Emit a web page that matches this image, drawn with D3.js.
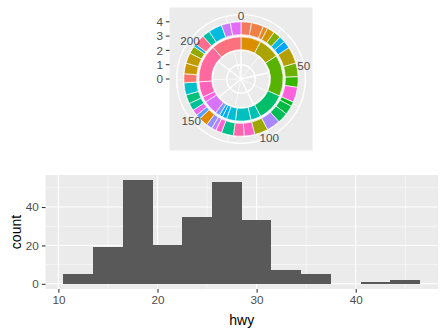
<!DOCTYPE html>
<html>
<head>
<meta charset="utf-8">
<script src="https://cdn.jsdelivr.net/npm/d3@7"></script>
<style>
  html, body { margin: 0; padding: 0; background: #ffffff; }
  svg { display: block; }
  text { font-family: "Liberation Sans", Arial, Helvetica, sans-serif; }
</style>
</head>
<body>
<svg id="chart" width="446" height="335"></svg>
<script>
// ---- mpg data -------------------------------------------------------------
// Vehicles per manufacturer, in data order
const manufacturers = ["audi", "chevrolet", "dodge", "ford", "honda", "hyundai", "jeep",
  "land rover", "lincoln", "mercury", "nissan", "pontiac", "subaru", "toyota", "volkswagen"];
const manufacturerCounts = [18, 19, 37, 25, 9, 14, 8, 4, 3, 4, 13, 5, 14, 34, 27];

// Vehicles per model, in data order
const models = ["a4", "a4 quattro", "a6 quattro",
  "c1500 suburban 2wd", "corvette", "k1500 tahoe 4wd", "malibu",
  "caravan 2wd", "dakota pickup 4wd", "durango 4wd", "ram 1500 pickup 4wd",
  "expedition 2wd", "explorer 4wd", "f150 pickup 4wd", "mustang",
  "civic",
  "sonata", "tiburon",
  "grand cherokee 4wd",
  "range rover",
  "navigator 2wd",
  "mountaineer 4wd",
  "altima", "maxima", "pathfinder 4wd",
  "grand prix",
  "forester awd", "impreza awd",
  "4runner 4wd", "camry", "camry solara", "corolla", "land cruiser wagon 4wd", "toyota tacoma 4wd",
  "gti", "jetta", "new beetle", "passat"];
const modelCounts = [7, 8, 3,
  5, 5, 4, 5,
  11, 9, 7, 10,
  3, 6, 7, 9,
  9,
  7, 7,
  8,
  4,
  3,
  4,
  6, 3, 4,
  5,
  6, 8,
  6, 7, 7, 5, 2, 7,
  5, 9, 6, 7];

const thetaTicks = [0, 50, 100, 150, 200];
const thetaMinorTicks = [25, 75, 125, 175, 225];
const radiusTicks = [0, 1, 2, 3, 4];

// hwy histogram, bins of width 3
const hwyBinStarts = [10.5, 13.5, 16.5, 19.5, 22.5, 25.5, 28.5, 31.5, 34.5, 37.5, 40.5, 43.5];
const hwyBinWidth = 3;
const hwyCounts = [5, 19, 54, 20, 35, 53, 33, 7, 5, 0, 1, 2];
const hwyTicks = [10, 20, 30, 40];
const hwyMinorTicks = [15, 25, 35, 45];
const countTicks = [0, 20, 40];
const countMinorTicks = [10, 30, 50];

// ---- colours: polar-LUV hue palette (c = 100, l = 65) -----------------------
function hclColor(h, c, l) {
  const WHITE_Y = 1.0, WHITE_u = 0.1978398, WHITE_v = 0.4683363;
  const hr = h * Math.PI / 180;
  const U = c * Math.cos(hr), V = c * Math.sin(hr);
  const Y = WHITE_Y * (l > 7.999592 ? Math.pow((l + 16) / 116, 3) : l / 903.3);
  const u = U / (13 * l) + WHITE_u, v = V / (13 * l) + WHITE_v;
  const X = 9 * Y * u / (4 * v);
  const Z = -X / 3 - 5 * Y + 3 * Y / v;
  const gt = t => (t > 0.00304 ? 1.055 * Math.pow(t, 1 / 2.4) - 0.055 : 12.92 * t);
  const cl = t => Math.round(255 * Math.max(0, Math.min(1, gt(t))));
  return d3.rgb(
    cl(3.240479 * X - 1.537150 * Y - 0.498535 * Z),
    cl(-0.969256 * X + 1.875992 * Y + 0.041556 * Z),
    cl(0.055648 * X - 0.204043 * Y + 1.057311 * Z)
  ).formatHex();
}
function huePalette(n) {
  return d3.range(n).map(i => hclColor((15 + i * 360 / n) % 360, 100, 65));
}
// one fill scale shared by both rings
const fillLevels = Array.from(new Set([...manufacturers, ...models])).sort();
const fill = d3.scaleOrdinal().domain(fillLevels).range(huePalette(fillLevels.length));

const svg = d3.select("#chart");
const GRID = "#ffffff", PANEL = "#EBEBEB", TICK = "#333333", LABEL = "#4D4D4D";
const tickLen = 3.67, majorW = 1.07, minorW = 0.53;

// ---- polar chart ------------------------------------------------------------
const polar = { x0: 169.5, y0: 7.5, size: 143 };
const cx = polar.x0 + polar.size / 2, cy = polar.y0 + polar.size / 2;
const total = d3.sum(manufacturerCounts);
const theta = d3.scaleLinear().domain([0, total]).range([0, 2 * Math.PI]);
const rScale = d3.scaleLinear().domain([0, 4]).range([0, 0.4 * polar.size]);
const rOuterGrid = 0.45 * polar.size;

const polarLayer = svg.append("g");
polarLayer.append("rect").attr("x", polar.x0).attr("y", polar.y0)
  .attr("width", polar.size).attr("height", polar.size).attr("fill", PANEL);

const pg = polarLayer.append("g").attr("transform", `translate(${cx},${cy})`);
const spoke = (t, w) => pg.append("line")
  .attr("x1", 0).attr("y1", 0)
  .attr("x2", rOuterGrid * Math.sin(theta(t))).attr("y2", -rOuterGrid * Math.cos(theta(t)))
  .attr("stroke", GRID).attr("stroke-width", w);
thetaTicks.forEach(t => spoke(t, majorW * 1.3));
thetaMinorTicks.forEach(t => spoke(t, minorW * 1.3));
radiusTicks.filter(r => r > 0).map(rScale).concat([rOuterGrid]).forEach(r =>
  pg.append("circle").attr("r", r).attr("fill", "none")
    .attr("stroke", GRID).attr("stroke-width", majorW * 1.3));

function ringSegments(keys, counts, r0, r1) {
  const ends = Array.from(d3.cumsum(counts));
  return keys.map((k, i) => ({ key: k, start: ends[i] - counts[i], end: ends[i], r0, r1 }));
}
const rings = [
  ...ringSegments(manufacturers, manufacturerCounts, 2.05, 2.95),
  ...ringSegments(models, modelCounts, 3.1, 4.0)
];
const arc = d3.arc()
  .innerRadius(d => rScale(d.r0)).outerRadius(d => rScale(d.r1))
  .startAngle(d => theta(d.start)).endAngle(d => theta(d.end));
pg.selectAll("path.seg").data(rings).join("path")
  .attr("class", "seg")
  .attr("d", arc)
  .attr("fill", d => fill(d.key))
  .attr("stroke", "#ffffff").attr("stroke-width", 0.7);

// theta labels around the circle
pg.selectAll("text.theta").data(thetaTicks).join("text")
  .attr("class", "theta")
  .attr("x", d => rOuterGrid * Math.sin(theta(d)))
  .attr("y", d => -rOuterGrid * Math.cos(theta(d)) + 5.6)
  .attr("text-anchor", "middle")
  .attr("font-size", 11.7).attr("fill", LABEL)
  .text(d => d);

// radius axis on the left
const ra = polarLayer.append("g");
radiusTicks.forEach(v => {
  const yy = cy - rScale(v);
  ra.append("line").attr("x1", polar.x0 - tickLen).attr("x2", polar.x0)
    .attr("y1", yy).attr("y2", yy).attr("stroke", TICK).attr("stroke-width", majorW);
  ra.append("text").attr("x", polar.x0 - tickLen - 2.9).attr("y", yy + 4.2)
    .attr("text-anchor", "end").attr("font-size", 11.7).attr("fill", LABEL).text(v);
});

// ---- histogram ----------------------------------------------------------------
const hp = { x0: 45.5, x1: 438, y0: 175, y1: 289 };
const x = d3.scaleLinear().domain([8.7, 48.3]).range([hp.x0, hp.x1]);
const y = d3.scaleLinear().domain([-2.7, 56.7]).range([hp.y1, hp.y0]);

const histLayer = svg.append("g");
histLayer.append("rect").attr("x", hp.x0).attr("y", hp.y0)
  .attr("width", hp.x1 - hp.x0).attr("height", hp.y1 - hp.y0).attr("fill", PANEL);

const grid = histLayer.append("g");
countMinorTicks.forEach(v => grid.append("line").attr("x1", hp.x0).attr("x2", hp.x1)
  .attr("y1", y(v)).attr("y2", y(v)).attr("stroke", GRID).attr("stroke-width", minorW));
hwyMinorTicks.forEach(v => grid.append("line").attr("y1", hp.y0).attr("y2", hp.y1)
  .attr("x1", x(v)).attr("x2", x(v)).attr("stroke", GRID).attr("stroke-width", minorW));
countTicks.forEach(v => grid.append("line").attr("x1", hp.x0).attr("x2", hp.x1)
  .attr("y1", y(v)).attr("y2", y(v)).attr("stroke", GRID).attr("stroke-width", majorW));
hwyTicks.forEach(v => grid.append("line").attr("y1", hp.y0).attr("y2", hp.y1)
  .attr("x1", x(v)).attr("x2", x(v)).attr("stroke", GRID).attr("stroke-width", majorW));

histLayer.selectAll("rect.bin").data(hwyBinStarts.map((s, i) => ({ s, n: hwyCounts[i] })))
  .join("rect").attr("class", "bin")
  .attr("x", d => x(d.s)).attr("width", d => x(d.s + hwyBinWidth) - x(d.s))
  .attr("y", d => y(d.n)).attr("height", d => y(0) - y(d.n))
  .attr("fill", "#595959")
  .attr("shape-rendering", "crispEdges");

// axes
const xAxis = d3.axisBottom(x).tickValues(hwyTicks).tickSize(tickLen).tickPadding(3);
const yAxis = d3.axisLeft(y).tickValues(countTicks).tickSize(tickLen).tickPadding(3);
const gx = histLayer.append("g").attr("transform", `translate(0,${hp.y1})`).call(xAxis);
const gy = histLayer.append("g").attr("transform", `translate(${hp.x0},0)`).call(yAxis);
[gx, gy].forEach(g => {
  g.select(".domain").remove();
  g.selectAll(".tick line").attr("stroke", TICK).attr("stroke-width", majorW);
  g.selectAll(".tick text").attr("fill", LABEL).attr("font-size", 11.7)
    .attr("font-family", "'Liberation Sans', Arial, sans-serif");
});

histLayer.append("text").attr("x", (hp.x0 + hp.x1) / 2).attr("y", 325)
  .attr("text-anchor", "middle").attr("font-size", 14).attr("fill", "#000000").text("hwy");
histLayer.append("text")
  .attr("transform", `translate(20.5,${(hp.y0 + hp.y1) / 2}) rotate(-90)`)
  .attr("text-anchor", "middle").attr("font-size", 14).attr("fill", "#000000").text("count");
</script>
</body>
</html>
